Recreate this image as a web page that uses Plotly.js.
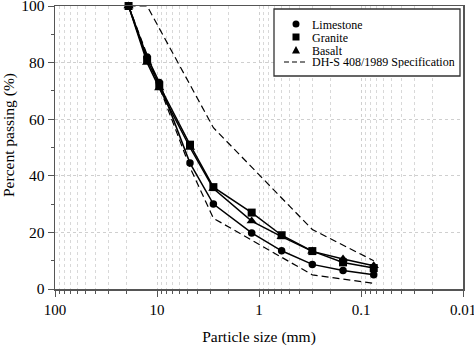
<!DOCTYPE html>
<html>
<head>
<meta charset="utf-8">
<script src="https://cdn.plot.ly/plotly-3.0.1.min.js"></script>
<style>html,body{margin:0;padding:0;background:#fff;}#chart{width:474px;height:346px;}</style>
</head>
<body>
<div id="chart"></div>
<script>
// Data
const sieveSize = [19, 12.5, 9.5, 4.75, 2.8, 1.18, 0.6, 0.3, 0.15, 0.075];
const limestone = [100, 82, 73, 44.5, 30, 19.8, 13.5, 8.7, 6.5, 5.0];
const granite   = [100, 81, 72, 51, 36, 27, 19, 13.4, 9.4, 7.4];
const basalt    = [100, 80, 71, 50, 35.5, 24, 18.5, 13.3, 10.6, 8.2];
const specUpperSize = [19, 12.5, 2.8, 0.3, 0.075];
const specUpper     = [100, 100, 57, 21, 10];
const specLowerSize = [19, 4.75, 2.8, 0.3, 0.075];
const specLower     = [100, 43, 25, 5, 2];
const legendLabels = ['Limestone', 'Granite', 'Basalt', 'DH-S 408/1989 Specification'];
const xTitle = 'Particle size (mm)';
const yTitle = 'Percent passing (%)';

const FONT = "'Liberation Serif', 'DejaVu Serif', serif";
const lineStyle = {color: '#000', width: 1.5};
function series(y, symbol, size) {
  return {x: sieveSize, y: y, type: 'scatter', mode: 'lines+markers',
    line: lineStyle, marker: {symbol: symbol, size: size, color: '#000'},
    showlegend: false, cliponaxis: false};
}
const traces = [
  {x: specUpperSize, y: specUpper, type: 'scatter', mode: 'lines',
   line: {color: '#000', width: 1.2, dash: '7px,4px'}, showlegend: false},
  {x: specLowerSize, y: specLower, type: 'scatter', mode: 'lines',
   line: {color: '#000', width: 1.2, dash: '7px,4px'}, showlegend: false},
  series(basalt, 'triangle-up', 9),
  series(granite, 'square', 8),
  series(limestone, 'circle', 7.5)
];

// Custom legend (paper coords: x 55..463 px, y 289..6 px)
const L = 55, R = 463, T = 6, B = 289;
const px = v => (v - L) / (R - L);
const py = v => (B - v) / (B - T);
const rows = [24, 37, 50, 62];
const mx = 296;
const shapes = [
  {type: 'rect', xref: 'paper', yref: 'paper', x0: px(274), x1: px(460), y0: py(76), y1: py(9),
   line: {color: '#333', width: 1.3}, fillcolor: '#fff', layer: 'above'},
  {type: 'circle', xref: 'paper', yref: 'paper', x0: px(mx - 3.5), x1: px(mx + 3.5), y0: py(rows[0] + 3.5), y1: py(rows[0] - 3.5),
   fillcolor: '#000', line: {width: 0}, layer: 'above'},
  {type: 'rect', xref: 'paper', yref: 'paper', x0: px(mx - 3.5), x1: px(mx + 3.5), y0: py(rows[1] + 3.5), y1: py(rows[1] - 3.5),
   fillcolor: '#000', line: {width: 0}, layer: 'above'},
  {type: 'path', xref: 'paper', yref: 'paper',
   path: 'M' + px(mx - 4) + ',' + py(rows[2] + 3.5) + ' L' + px(mx + 4) + ',' + py(rows[2] + 3.5) + ' L' + px(mx) + ',' + py(rows[2] - 4) + ' Z',
   fillcolor: '#000', line: {width: 0}, layer: 'above'},
  {type: 'line', xref: 'paper', yref: 'paper', x0: px(284), x1: px(308), y0: py(rows[3]), y1: py(rows[3]),
   line: {color: '#000', width: 1.2, dash: '5px,3px'}, layer: 'above'}
];
const annotations = legendLabels.map((t, i) => ({
  xref: 'paper', yref: 'paper', x: px(311), y: py(rows[i]), xanchor: 'left', yanchor: 'middle',
  text: t, showarrow: false, height: 13, borderpad: 0, font: {family: FONT, size: 12, color: '#000'}
}));
annotations.push({
  xref: 'paper', yref: 'paper', x: px(9), y: py(135), xanchor: 'center', yanchor: 'middle',
  text: yTitle, textangle: -90, showarrow: false, font: {family: FONT, size: 15.5, color: '#000'}
});

const layout = {
  width: 474, height: 346,
  margin: {l: 55, r: 11, t: 6, b: 57},
  paper_bgcolor: '#fff', plot_bgcolor: '#fff',
  font: {family: FONT, color: '#000'},
  xaxis: {
    type: 'log', range: [2, -2], dtick: 1,
    showline: true, mirror: true, linecolor: '#555', linewidth: 1.5,
    ticks: 'outside', ticklen: 6, tickcolor: '#555',
    showgrid: true, gridcolor: '#cfcfcf', griddash: 'dot', gridwidth: 1,
    minor: {dtick: 'D1', ticks: 'outside', ticklen: 3, tickcolor: '#555', showgrid: true, gridcolor: '#d8d8d8', griddash: 'dot'},
    zeroline: false, ticklabeloverflow: 'allow',
    tickfont: {family: FONT, size: 15, color: '#000'},
    title: {text: xTitle, font: {family: FONT, size: 15.5, color: '#000'}, standoff: 14}
  },
  yaxis: {
    range: [0, 100], dtick: 20,
    showline: true, mirror: true, linecolor: '#555', linewidth: 1.5,
    ticks: 'outside', ticklen: 6, tickcolor: '#555',
    showgrid: true, gridcolor: '#cfcfcf', griddash: 'dot', gridwidth: 1,
    minor: {dtick: 10, ticks: 'outside', ticklen: 3, tickcolor: '#555', showgrid: false},
    zeroline: false, ticklabeloverflow: 'allow',
    tickfont: {family: FONT, size: 15.5, color: '#000'}
  },
  shapes: shapes,
  annotations: annotations,
  showlegend: false
};
Plotly.newPlot('chart', traces, layout, {displayModeBar: false, staticPlot: true});
</script>
</body>
</html>
